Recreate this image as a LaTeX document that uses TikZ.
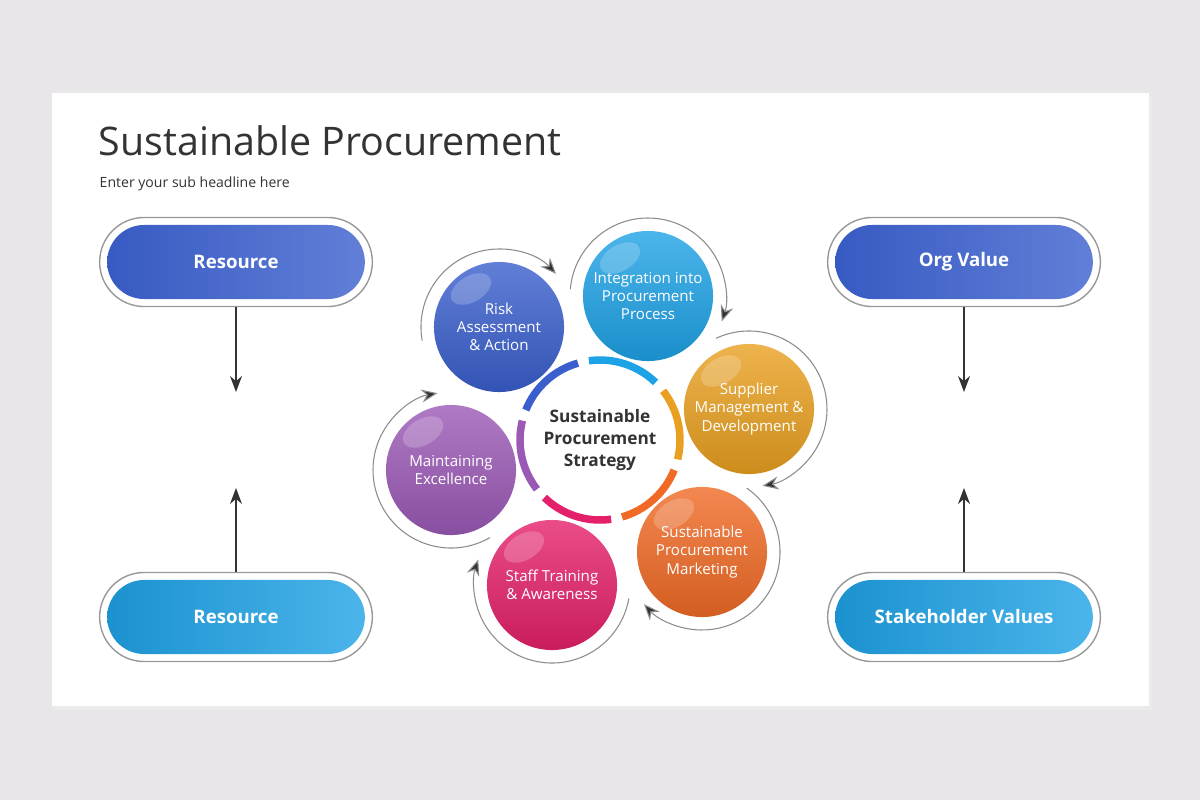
\documentclass[tikz,border=0pt]{standalone}
\usepackage{fontspec}
\setmainfont{Open Sans}
\usetikzlibrary{shapes.misc,arrows.meta,positioning}
\definecolor{bgray}{HTML}{E8E6E8}
\definecolor{cblue}{HTML}{3A5FCD}
\definecolor{ccyan}{HTML}{1EA2E6}
\definecolor{corange}{HTML}{E9A020}
\definecolor{cred}{HTML}{F06A25}
\definecolor{cpink}{HTML}{E5206A}
\definecolor{cpurple}{HTML}{9B59B6}
\definecolor{ctext}{HTML}{333333}
\tikzset{
  pillout/.style={rounded rectangle, draw=gray!80, line width=0.4pt, fill=white,
    minimum width=2.96cm, minimum height=0.89cm},
  pillin/.style={rounded rectangle, minimum width=2.81cm, minimum height=0.74cm,
    text=white, font=\bfseries\fontsize{5.3}{6}\selectfont},
  ball/.style={circle, minimum size=1.3cm, inner sep=0pt, shading angle=20,
    top color=#1!80!white, bottom color=#1!88!black},
  ring/.style={draw=gray!90, line width=0.3pt, -{Stealth[length=1.6mm,width=1.3mm,fill=black!80]}},
  seg/.style={line width=0.75mm, draw=#1},
  link/.style={draw=ctext, line width=0.4pt, -{Stealth[length=1.6mm,width=1.2mm]}},
}
\begin{document}
\begin{tikzpicture}[x=0.01cm,y=0.01cm]
\useasboundingbox (0,0) rectangle (1200,-800);
\fill[bgray] (0,0) rectangle (1200,-800);
\fill[black!8] (55,-97) rectangle (1152,-710);
\fill[white] (52,-93) rectangle (1149,-706);
\node[anchor=base west, inner sep=0, text=ctext, font=\fontsize{11.2}{13}\selectfont] (title) at (98,-155) {Sustainable Procurement};
\node[anchor=base west, inner sep=0, text=ctext, font=\fontsize{4}{5}\selectfont] (sub) at (99,-187) {Enter your sub headline here};
% pills
\node[pillout] (lto) at (236,-262) {};
\node[pillin, left color=cblue!95!black, right color=cblue!80!white] (lt) at (236,-262) {Resource};
\node[pillout] (lbo) at (236,-617) {};
\node[pillin, left color=ccyan!90!black, right color=ccyan!80!white] (lb) at (236,-617) {Resource};
\node[pillout] (rto) at (964,-262) {};
\node[pillin, left color=cblue!95!black, right color=cblue!80!white] (rt) at (964,-262) {Org Value};
\node[pillout] (rbo) at (964,-617) {};
\node[pillin, left color=ccyan!90!black, right color=ccyan!80!white] (rb) at (964,-617) {Stakeholder Values};
\coordinate (ltend) at (236,-392);
\coordinate (lbend) at (236,-488);
\coordinate (rtend) at (964,-392);
\coordinate (rbend) at (964,-488);
\draw[link] (lto.south) -- (ltend);
\draw[link] (lbo.north) -- (lbend);
\draw[link] (rto.south) -- (rtend);
\draw[link] (rbo.north) -- (rbend);
% rings
\draw[ring] (499,-327) ++(190:78) arc[start angle=190,end angle=43,radius=78];
\draw[ring] (648,-296) ++(175:78) arc[start angle=175,end angle=-19,radius=78];
\draw[ring] (749,-409) ++(115:78) arc[start angle=115,end angle=-80,radius=78];
\draw[ring] (702,-552) ++(55:78) arc[start angle=55,end angle=-138,radius=78];
\draw[ring] (552,-585) ++(-10:78) arc[start angle=-10,end angle=-199,radius=78];
\draw[ring] (451,-470) ++(-60:78) arc[start angle=-60,end angle=-260,radius=78];
% balls
\foreach \n/\x/\y/\c/\t in {
  risk/499/-327/cblue/{Risk\\Assessment\\\& Action},
  integ/648/-296/ccyan/{Integration into\\Procurement\\Process},
  supp/749/-409/corange/{Supplier\\Management \&\\Development},
  mark/702/-552/cred/{Sustainable\\Procurement\\Marketing},
  staff/552/-585/cpink/{Staff Training\\\& Awareness},
  maint/451/-470/cpurple/{Maintaining\\Excellence}}{
  \node[ball=\c] (\n) at (\x,\y) {};
  \fill[white, opacity=0.2] (\x-28,\y+38) ellipse[x radius=22, y radius=13, rotate=30];
  \node[text=white, align=center, font=\fontsize{4.3}{5.2}\selectfont] (\n t) at (\n) {\t};
}
% center
\node[circle, fill=white, minimum size=1.5cm, inner sep=0, align=center, text=ctext,
  font=\bfseries\fontsize{4.9}{6.2}\selectfont] (core) at (600,-440) {Sustainable\\Procurement\\Strategy};
\foreach \a/\c in {132/cblue,72/ccyan,12/corange,-48/cred,-108/cpink,-168/cpurple}
  \draw[seg=\c] (600,-440) ++(\a+26:80) arc[start angle=\a+26,end angle=\a-26,radius=80];
\end{tikzpicture}
\end{document}
